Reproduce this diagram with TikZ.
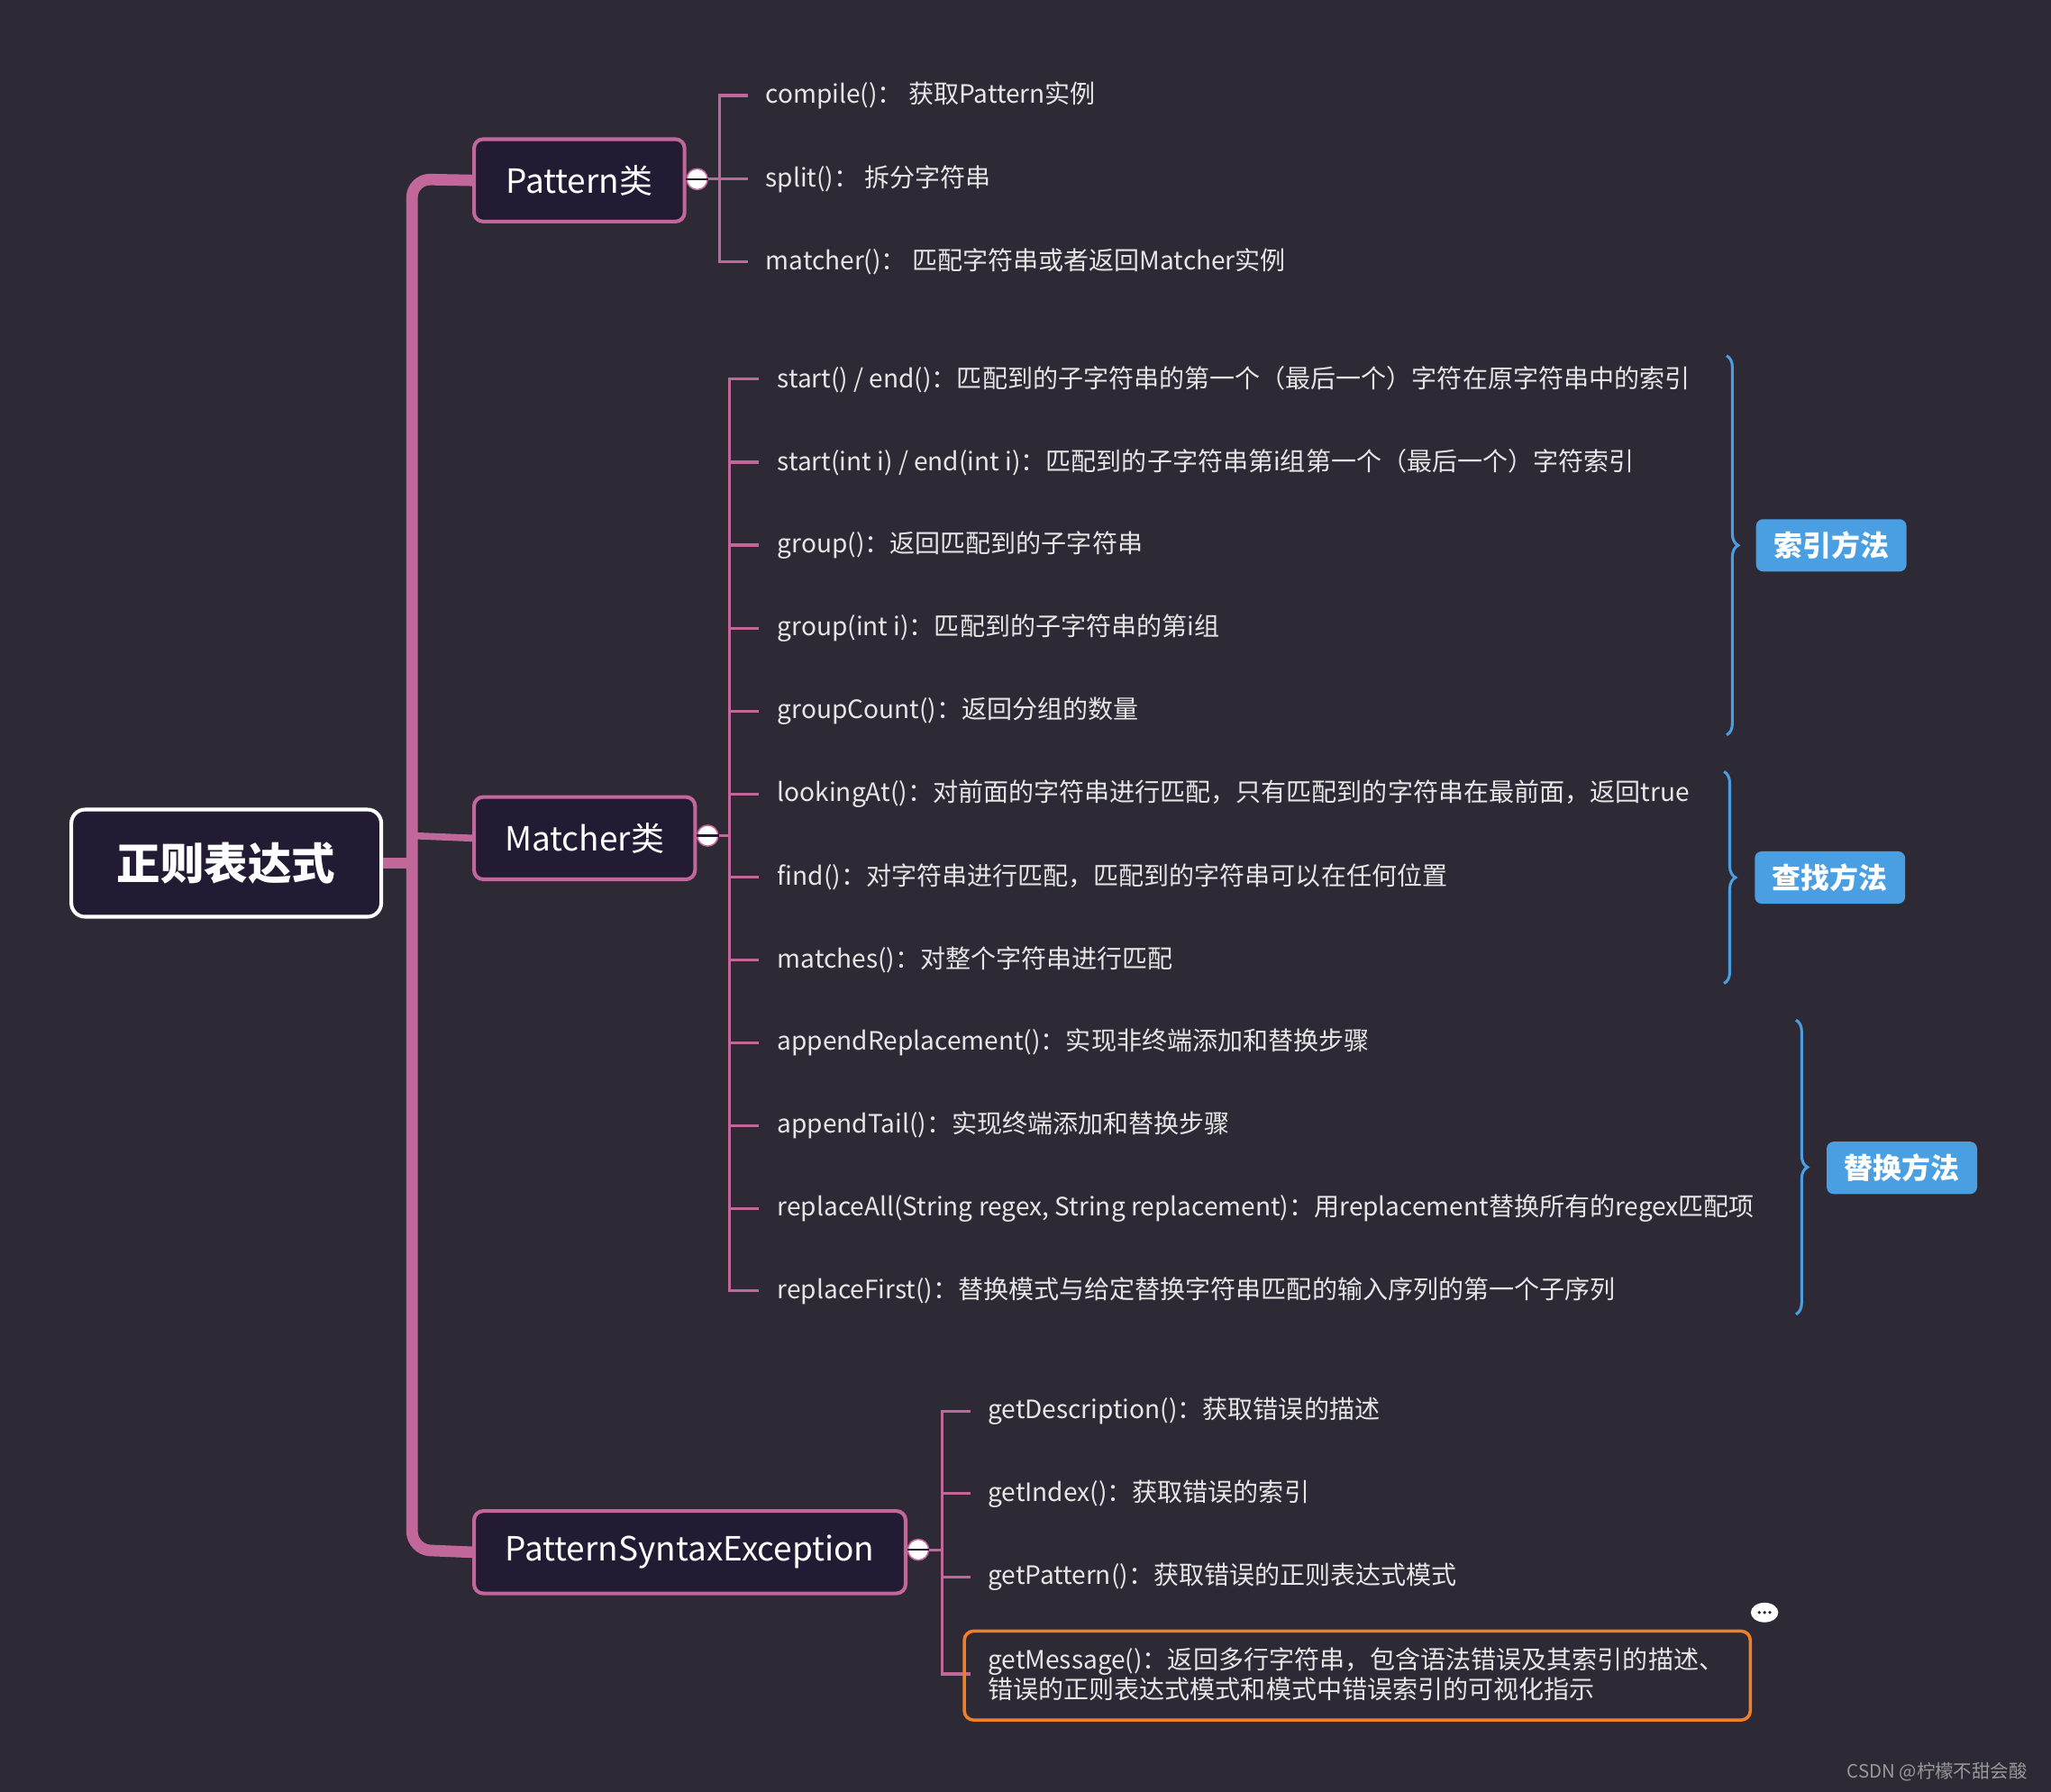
\documentclass[tikz,border=0pt]{standalone}
\usepackage{fontspec}
\setmainfont{Noto Sans CJK SC}
\usetikzlibrary{decorations.pathreplacing,shapes.geometric}
\definecolor{bg}{HTML}{2D2A35}
\definecolor{pk}{HTML}{C2679A}
\definecolor{boxf}{HTML}{231B33}
\definecolor{txt}{HTML}{E6E6E6}
\definecolor{bl}{HTML}{4A9FE3}
\definecolor{og}{HTML}{F07F2A}
\tikzset{
 topic/.style={draw=pk,line width=1.6pt,fill=boxf,rounded corners=4pt,text=white,font=\fontsize{14.5}{16}\selectfont,inner sep=0pt,anchor=north west},
 item/.style={text=txt,font=\fontsize{11}{13}\selectfont,anchor=west,inner sep=0pt},
 br/.style={draw=pk,line width=1.2pt},
 tag/.style={fill=bl,rounded corners=3pt,text=white,font=\bfseries\fontsize{12.5}{14}\selectfont,minimum width=2.3cm,minimum height=0.8cm},
 bra/.style={draw=bl,line width=1.2pt,decorate,decoration={brace,amplitude=5pt}},
 knob/.style={circle,draw=pk,fill=white,minimum size=0.32cm,inner sep=0pt,line width=0.6pt}
}
\begin{document}
\begin{tikzpicture}[x=0.02cm,y=-0.02cm]
\fill[bg] (0,0) rectangle (1568,1370);
\useasboundingbox (0,0) rectangle (1568,1370);
% root
\node[draw=white,line width=1.6pt,fill=boxf,rounded corners=6pt,text=white,font=\bfseries\fontsize{19}{22}\selectfont,minimum width=4.74cm,minimum height=1.64cm] (root) at (173,660) {正则表达式};
\node[topic,minimum width=3.22cm,minimum height=1.26cm] (P) at (361,105) {};
\node[text=white,font=\fontsize{14.5}{16}\selectfont] at (P.center) {Pattern类};
\node[topic,minimum width=3.38cm,minimum height=1.26cm] (M) at (361,608) {};
\node[text=white,font=\fontsize{14.5}{16}\selectfont] at (M.center) {Matcher类};
\node[topic,minimum width=6.6cm,minimum height=1.26cm] (E) at (361,1154) {};
\node[text=white,font=\fontsize{14.5}{16}\selectfont] at (E.center) {PatternSyntaxException};
% trunk
\draw[pk,line width=5pt] (root.east) -- (316,660);
\draw[pk,line width=5pt,rounded corners=8pt] (P.west) -- (315,137) -- (315,1185) -- (E.west);
\draw[pk,line width=3pt] (315,639) -- (M.west);
% knobs
\node[knob] (kP) at (533,137) {}; \draw[boxf,line width=1pt] (kP.west) -- (kP.east);
\node[knob] (kM) at (541,639) {}; \draw[boxf,line width=1pt] (kM.west) -- (kM.east);
\node[knob] (kE) at (702,1185) {}; \draw[boxf,line width=1pt] (kE.west) -- (kE.east);
% Pattern children
\draw[br] (kP.east) -- (550,137);
\draw[br] (572,73) -- (550,73) -- (550,200) -- (572,200);
\draw[br] (550,137) -- (572,137);
\node[item] (p1) at (585,73) {compile()： 获取Pattern实例};
\node[item] (p2) at (585,137) {split()： 拆分字符串};
\node[item] (p3) at (585,200) {matcher()： 匹配字符串或者返回Matcher实例};
% Matcher children
\draw[br] (kM.east) -- (558,639);
\draw[br] (580,290) -- (558,290) -- (558,987) -- (580,987);
\foreach \y in {353.4,416.8,480.2,543.6,607,670.4,733.8,797.2,860.6,924} \draw[br] (558,\y) -- (580,\y);
\node[item] (m1) at (594,290) {start() / end()：匹配到的子字符串的第一个（最后一个）字符在原字符串中的索引};
\node[item] (m2) at (594,353.4) {start(int i) / end(int i)：匹配到的子字符串第i组第一个（最后一个）字符索引};
\node[item] (m3) at (594,416.8) {group()：返回匹配到的子字符串};
\node[item] (m4) at (594,480.2) {group(int i)：匹配到的子字符串的第i组};
\node[item] (m5) at (594,543.6) {groupCount()：返回分组的数量};
\node[item] (m6) at (594,607) {lookingAt()：对前面的字符串进行匹配，只有匹配到的字符串在最前面，返回true};
\node[item] (m7) at (594,670.4) {find()：对字符串进行匹配，匹配到的字符串可以在任何位置};
\node[item] (m8) at (594,733.8) {matches()：对整个字符串进行匹配};
\node[item] (m9) at (594,797.2) {appendReplacement()：实现非终端添加和替换步骤};
\node[item] (m10) at (594,860.6) {appendTail()：实现终端添加和替换步骤};
\node[item] (m11) at (594,924) {replaceAll(String regex, String replacement)：用replacement替换所有的regex匹配项};
\node[item] (m12) at (594,987) {replaceFirst()：替换模式与给定替换字符串匹配的输入序列的第一个子序列};
% PSE children
\draw[br] (kE.east) -- (720,1185);
\draw[br] (742,1079) -- (720,1079) -- (720,1280) -- (742,1280);
\foreach \y in {1142,1206} \draw[br] (720,\y) -- (742,\y);
\node[item] (e1) at (755,1079) {getDescription()：获取错误的描述};
\node[item] (e2) at (755,1142) {getIndex()：获取错误的索引};
\node[item] (e3) at (755,1206) {getPattern()：获取错误的正则表达式模式};
\node[draw=og,line width=1.4pt,rounded corners=4pt,minimum width=12.02cm,minimum height=1.36cm,anchor=north west] (e4box) at (736,1246) {};
\node[item,align=left,font=\fontsize{11}{12}\selectfont] (e4) at (755,1280) {getMessage()：返回多行字符串，包含语法错误及其索引的描述、\\错误的正则表达式模式和模式中错误索引的可视化指示};
\node[ellipse,fill=white,minimum width=0.42cm,minimum height=0.3cm,inner sep=0pt] (dots) at (1349,1233) {};
\foreach \dx in {-4,0,4} \fill[bg] (1349+\dx,1233) circle (1.3);
% braces
\draw[bra] (1320,272) -- (1320,562) coordinate[midway,xshift=6pt] (b1);
\draw[bra] (1318,590) -- (1318,752) coordinate[midway,xshift=6pt] (b2);
\draw[bra] (1373,780) -- (1373,1005) coordinate[midway,xshift=6pt] (b3);
\node[tag] (t1) at (1400,417) {索引方法};
\node[tag] (t2) at (1399,671) {查找方法};
\node[tag] (t3) at (1454,893) {替换方法};
\node[text=gray!80,font=\fontsize{8}{9}\selectfont,anchor=east] (wm) at (1556,1355) {CSDN @柠檬不甜会酸};
\end{tikzpicture}
\end{document}
